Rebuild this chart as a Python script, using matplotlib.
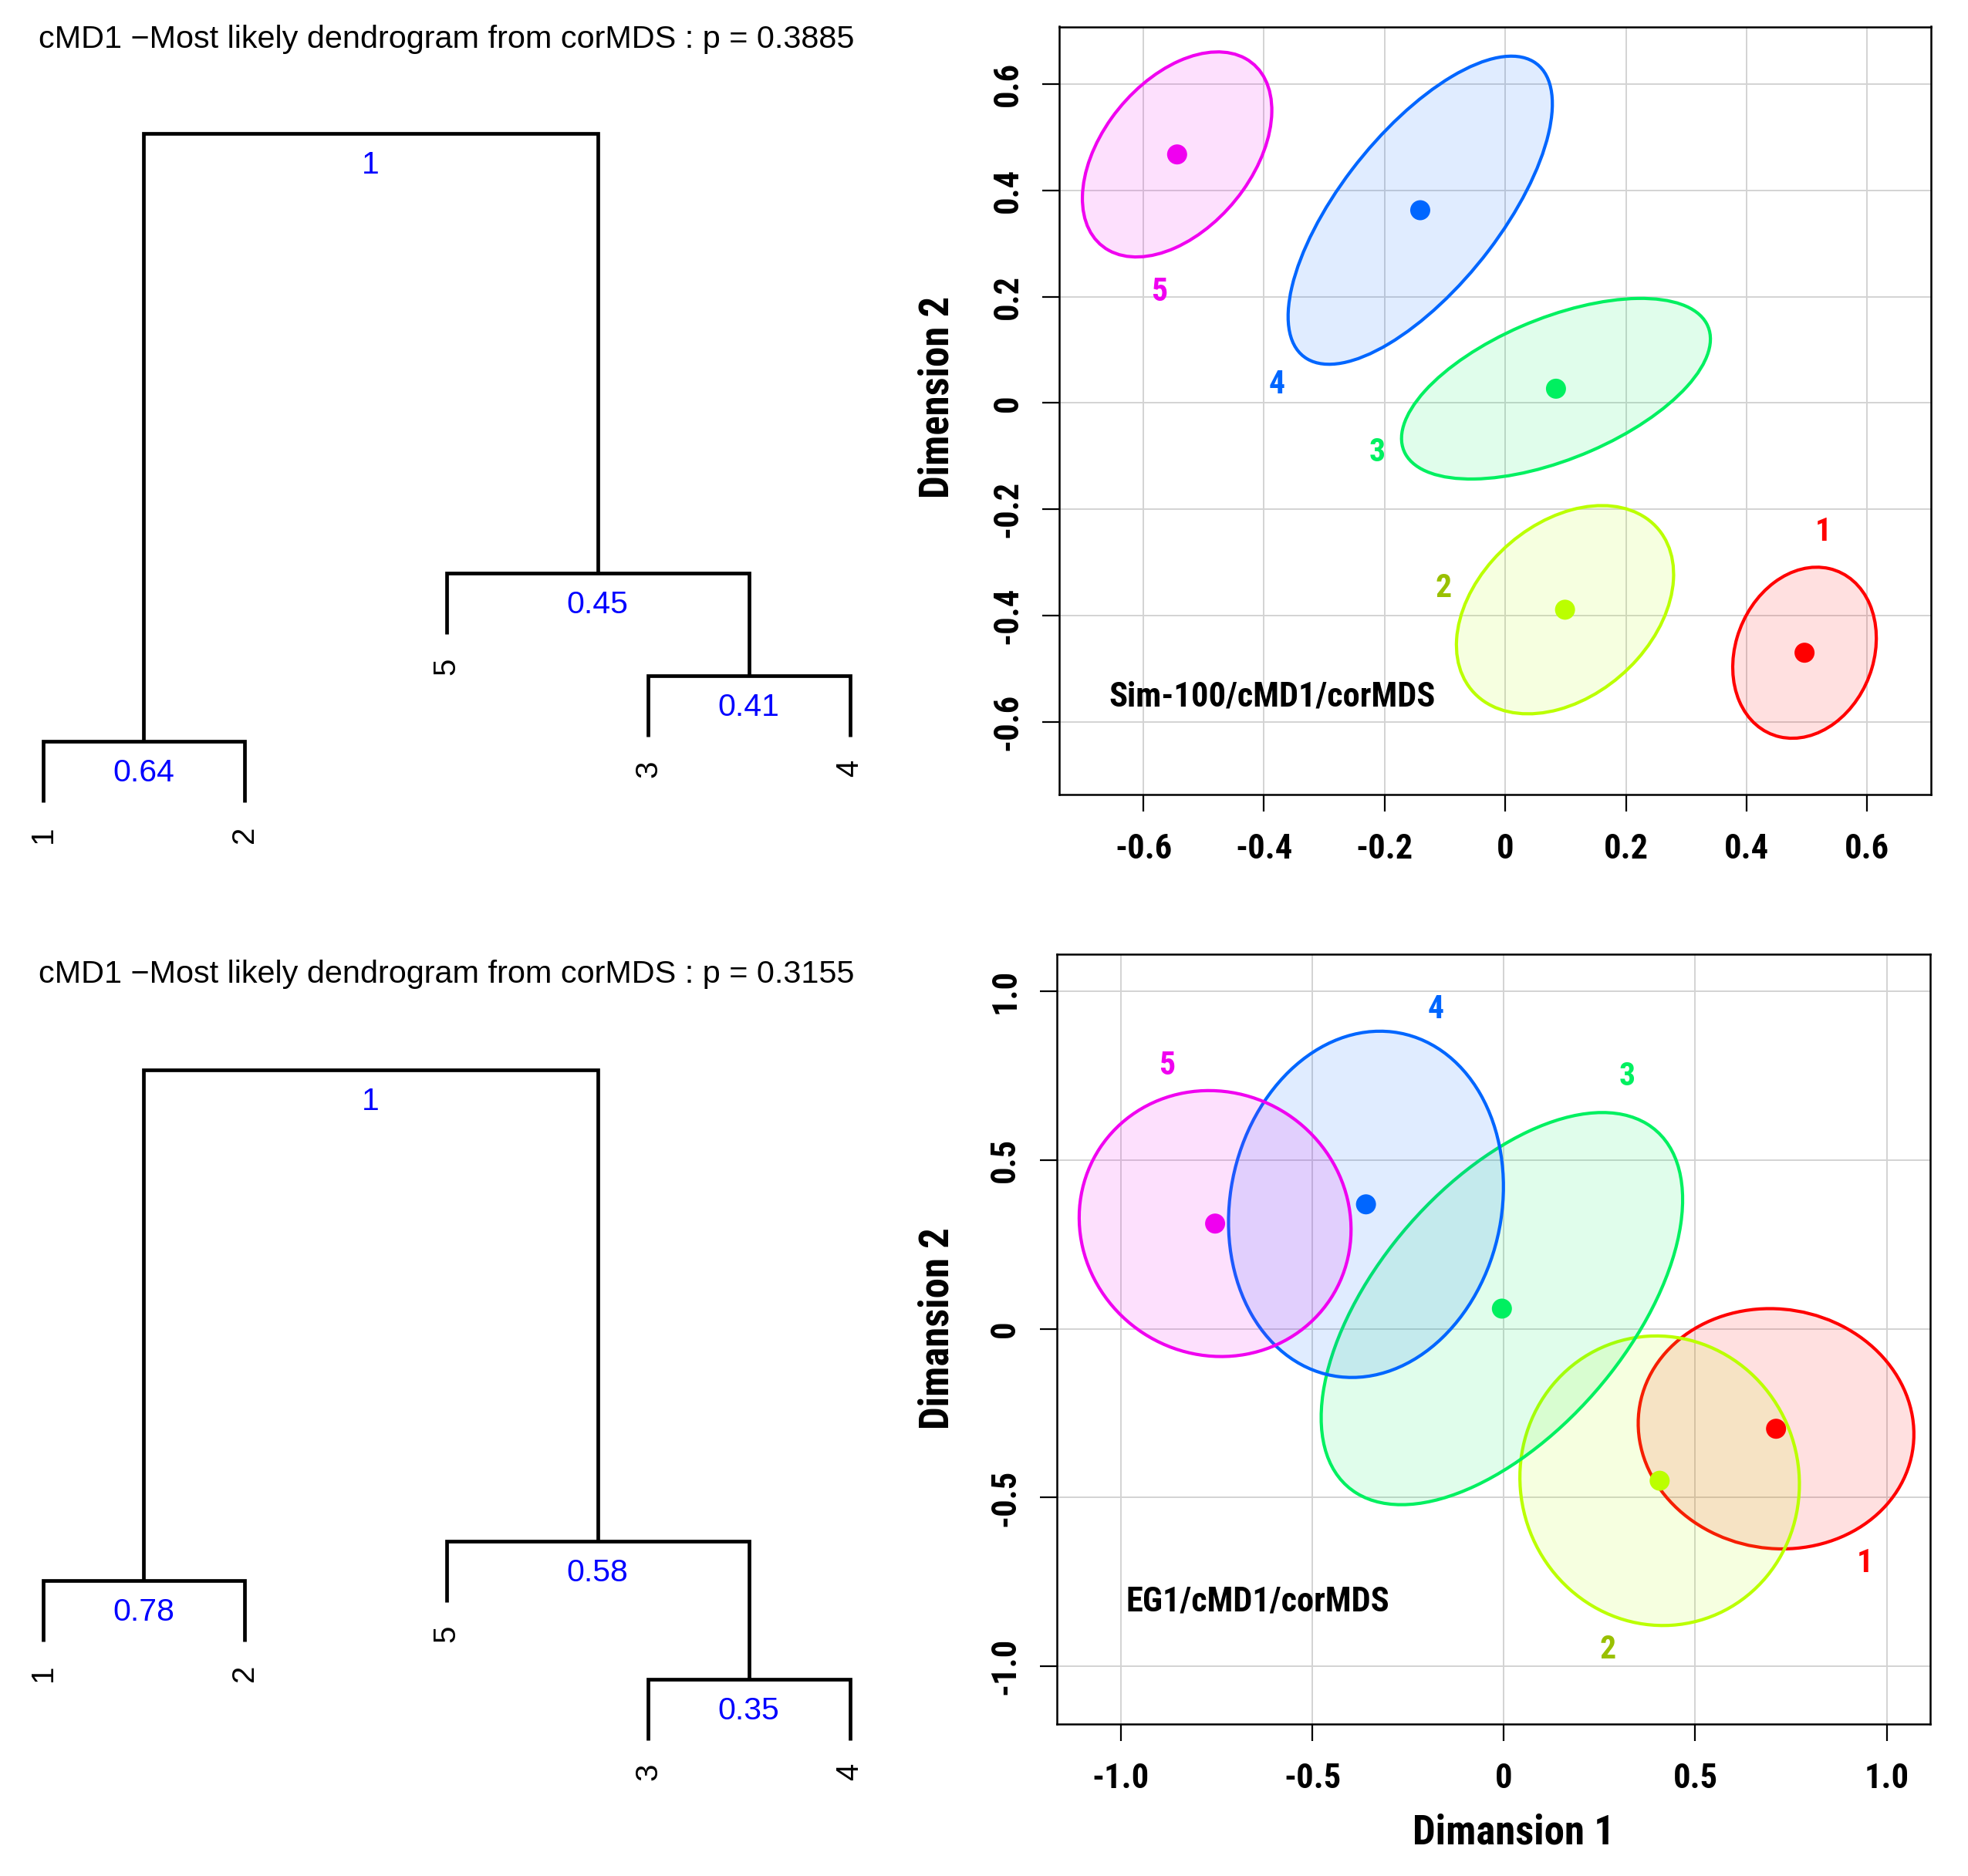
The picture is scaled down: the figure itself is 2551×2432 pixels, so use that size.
import numpy as np
import matplotlib
matplotlib.use("Agg")
import matplotlib.pyplot as plt
from matplotlib.patches import Ellipse
from matplotlib.colors import to_rgba

W, H = 2551, 2432

# ---- dendrogram data ----
LEAF_ORDER = ['1', '2', '5', '3', '4']
MERGE_PAIRS = [('1', '2'), ('3', '4'), ('5', '34'), ('12', '534')]
SIM_HEIGHTS = [0.080, 0.165, 0.298, 0.868]
SIM_PVALS = ['0.64', '0.41', '0.45', '1']
EG_HEIGHTS = [0.208, 0.080, 0.259, 0.870]
EG_PVALS = ['0.78', '0.35', '0.58', '1']
SIM_TITLE = "cMD1 \u2212Most likely dendrogram from corMDS : p = 0.3885"
EG_TITLE = "cMD1 \u2212Most likely dendrogram from corMDS : p = 0.3155"

# ---- MDS data (groups 1..5) ----
GROUPS = ['1', '2', '3', '4', '5']
COLORS = ['#FF0000', '#BBFF00', '#00F060', '#0066FF', '#F000F0']
LABEL_COLORS = ['#FF0000', '#99C000', '#00F060', '#0066FF', '#F000F0']

SIM_X = [0.496, 0.099, 0.084, -0.141, -0.544]
SIM_Y = [-0.470, -0.389, 0.027, 0.363, 0.468]
SIM_SX = [0.119, 0.180, 0.256, 0.219, 0.157]
SIM_SY = [0.161, 0.196, 0.170, 0.290, 0.193]
SIM_RHO = [0.17, 0.34, 0.55, 0.69, 0.43]
SIM_LAB_X = [0.527, -0.102, -0.212, -0.379, -0.574]
SIM_LAB_Y = [-0.242, -0.349, -0.093, 0.035, 0.209]
SIM_TICKS_X = [-0.6, -0.4, -0.2, 0, 0.2, 0.4, 0.6]
SIM_TICKLABELS_X = ['-0.6', '-0.4', '-0.2', '0', '0.2', '0.4', '0.6']
SIM_TICKS_Y = [-0.6, -0.4, -0.2, 0, 0.2, 0.4, 0.6]
SIM_TICKLABELS_Y = ['-0.6', '-0.4', '-0.2', '0', '0.2', '0.4', '0.6']

EG_X = [0.711, 0.407, -0.005, -0.360, -0.754]
EG_Y = [-0.296, -0.450, 0.060, 0.369, 0.312]
EG_SX = [0.360, 0.365, 0.472, 0.359, 0.355]
EG_SY = [0.356, 0.429, 0.581, 0.513, 0.394]
EG_RHO = [-0.045, -0.024, 0.556, 0.102, -0.045]
EG_LAB_X = [0.942, 0.272, 0.322, -0.178, -0.879]
EG_LAB_Y = [-0.695, -0.951, 0.747, 0.946, 0.779]
EG_TICKS = [-1.0, -0.5, 0, 0.5, 1.0]
EG_TICKLABELS = ['-1.0', '-0.5', '0', '0.5', '1.0']

# condensed bold is what R used; take the narrowest one that exists here
NARROW = ['Liberation Sans Narrow', 'Roboto Condensed', 'Roboto', 'DejaVu Sans']
REGULAR = ['Liberation Sans', 'DejaVu Sans']


def px_box(left, top, right, bottom):
    return [left / W, 1 - bottom / H, (right - left) / W, (bottom - top) / H]


def draw_dendrogram(fig, top_px, baseline_px, heights, pvals, title, title_y):
    ax = fig.add_axes(px_box(0, top_px, 1250, top_px + 1200))
    leaf_px0, leaf_step = 55.5, 261.5
    ax.set_xlim(1 - leaf_px0 / leaf_step, 1 + (1250 - leaf_px0) / leaf_step)
    ax.set_ylim((baseline_px - (top_px + 1200)) / 1000, (baseline_px - top_px) / 1000)
    ax.axis('off')

    hang = 0.1 * (max(heights) - min(heights))
    xpos = {lab: i + 1 for i, lab in enumerate(LEAF_ORDER)}
    hpos = {}
    for (a, b), h, p in zip(MERGE_PAIRS, heights, pvals):
        xa, xb = xpos[a], xpos[b]
        ya = hpos.get(a, h - hang)
        yb = hpos.get(b, h - hang)
        ax.plot([xa, xa, xb, xb], [ya, h, h, yb], color='black', lw=3.4,
                solid_joinstyle='miter', solid_capstyle='butt')
        ax.text((xa + xb) / 2, h - 0.041, p, color='#0000FF', fontsize=29.5,
                family=REGULAR, ha='center', va='center')
        for node, y0 in ((a, ya), (b, yb)):
            if node in LEAF_ORDER:
                ax.text(xpos[node], y0 - 0.030, node, rotation=90, fontsize=29,
                        family=REGULAR, ha='center', va='top')
        xpos[a + b] = (xa + xb) / 2
        hpos[a + b] = h
    fig.text(50 / W, 1 - title_y / H, title, fontsize=29.8, family=REGULAR,
             ha='left', va='center')


def draw_mds(fig, box, xlim, ylim, xs, ys, sxs, sys_, rhos, lx, ly,
             xticks, xticklabels, yticks, yticklabels, tag, tag_xy):
    ax = fig.add_axes(px_box(*box))
    ax.set_xlim(*xlim)
    ax.set_ylim(*ylim)
    ax.grid(True, color='#D3D3D3', lw=1.4)
    ax.set_axisbelow(True)
    for sp in ax.spines.values():
        sp.set_linewidth(1.8)
    ax.set_xticks(xticks)
    ax.set_xticklabels(xticklabels)
    ax.set_yticks(yticks)
    ax.set_yticklabels(yticklabels, rotation=90, va='center')
    ax.tick_params(length=16, width=1.6, labelsize=32)
    ax.tick_params(axis='x', pad=20)
    ax.tick_params(axis='y', pad=17)
    for lab in ax.get_xticklabels() + ax.get_yticklabels():
        lab.set_family(NARROW)
        lab.set_fontweight('bold')

    for i in range(len(xs)):
        sx, sy, r = sxs[i], sys_[i], rhos[i]
        cov = np.array([[sx * sx, r * sx * sy], [r * sx * sy, sy * sy]])
        vals, vecs = np.linalg.eigh(cov)
        angle = np.degrees(np.arctan2(vecs[1, 1], vecs[0, 1]))
        ell = Ellipse((xs[i], ys[i]), 2 * np.sqrt(vals[1]), 2 * np.sqrt(vals[0]),
                      angle=angle, facecolor=to_rgba(COLORS[i], 0.12),
                      edgecolor=COLORS[i], lw=3.0, zorder=2)
        ax.add_patch(ell)
    ax.scatter(xs, ys, s=350, c=COLORS, edgecolors='none', zorder=4)
    for i, g in enumerate(GROUPS):
        ax.text(lx[i], ly[i], g, color=LABEL_COLORS[i], fontsize=30,
                family=NARROW, fontweight='bold', ha='center', va='center', zorder=5)
    ax.text(tag_xy[0], tag_xy[1], tag, fontsize=32, family=NARROW,
            fontweight='bold', ha='left', va='center', zorder=5)
    return ax


fig = plt.figure(figsize=(W / 100, H / 100), dpi=100)

draw_dendrogram(fig, 0, 1041.4, SIM_HEIGHTS, SIM_PVALS, SIM_TITLE, 51)
draw_dendrogram(fig, 1200, 2256.8, EG_HEIGHTS, EG_PVALS, EG_TITLE, 1263)

draw_mds(fig, (1373.4, 34.5, 2503.4, 1030.4), (-0.7389, 0.7061), (-0.7375, 0.7086),
         SIM_X, SIM_Y, SIM_SX, SIM_SY, SIM_RHO, SIM_LAB_X, SIM_LAB_Y,
         SIM_TICKS_X, SIM_TICKLABELS_X, SIM_TICKS_Y, SIM_TICKLABELS_Y,
         'Sim-100/cMD1/corMDS', (-0.657, -0.553))
draw_mds(fig, (1370.2, 1236.9, 2501.8, 2234.8), (-1.1668, 1.1132), (-1.1705, 1.1104),
         EG_X, EG_Y, EG_SX, EG_SY, EG_RHO, EG_LAB_X, EG_LAB_Y,
         EG_TICKS, EG_TICKLABELS, EG_TICKS, EG_TICKLABELS,
         'EG1/cMD1/corMDS', (-0.987, -0.808))

fig.text(1215 / W, 1 - 515 / H, 'Dimension 2', rotation=90, fontsize=38,
         family=NARROW, fontweight='bold', ha='center', va='center')
fig.text(1215 / W, 1 - 1722 / H, 'Dimansion 2', rotation=90, fontsize=38,
         family=NARROW, fontweight='bold', ha='center', va='center')
fig.text(1962 / W, 1 - 2376 / H, 'Dimansion 1', fontsize=38,
         family=NARROW, fontweight='bold', ha='center', va='center')

fig.savefig('out.png', dpi=100)
